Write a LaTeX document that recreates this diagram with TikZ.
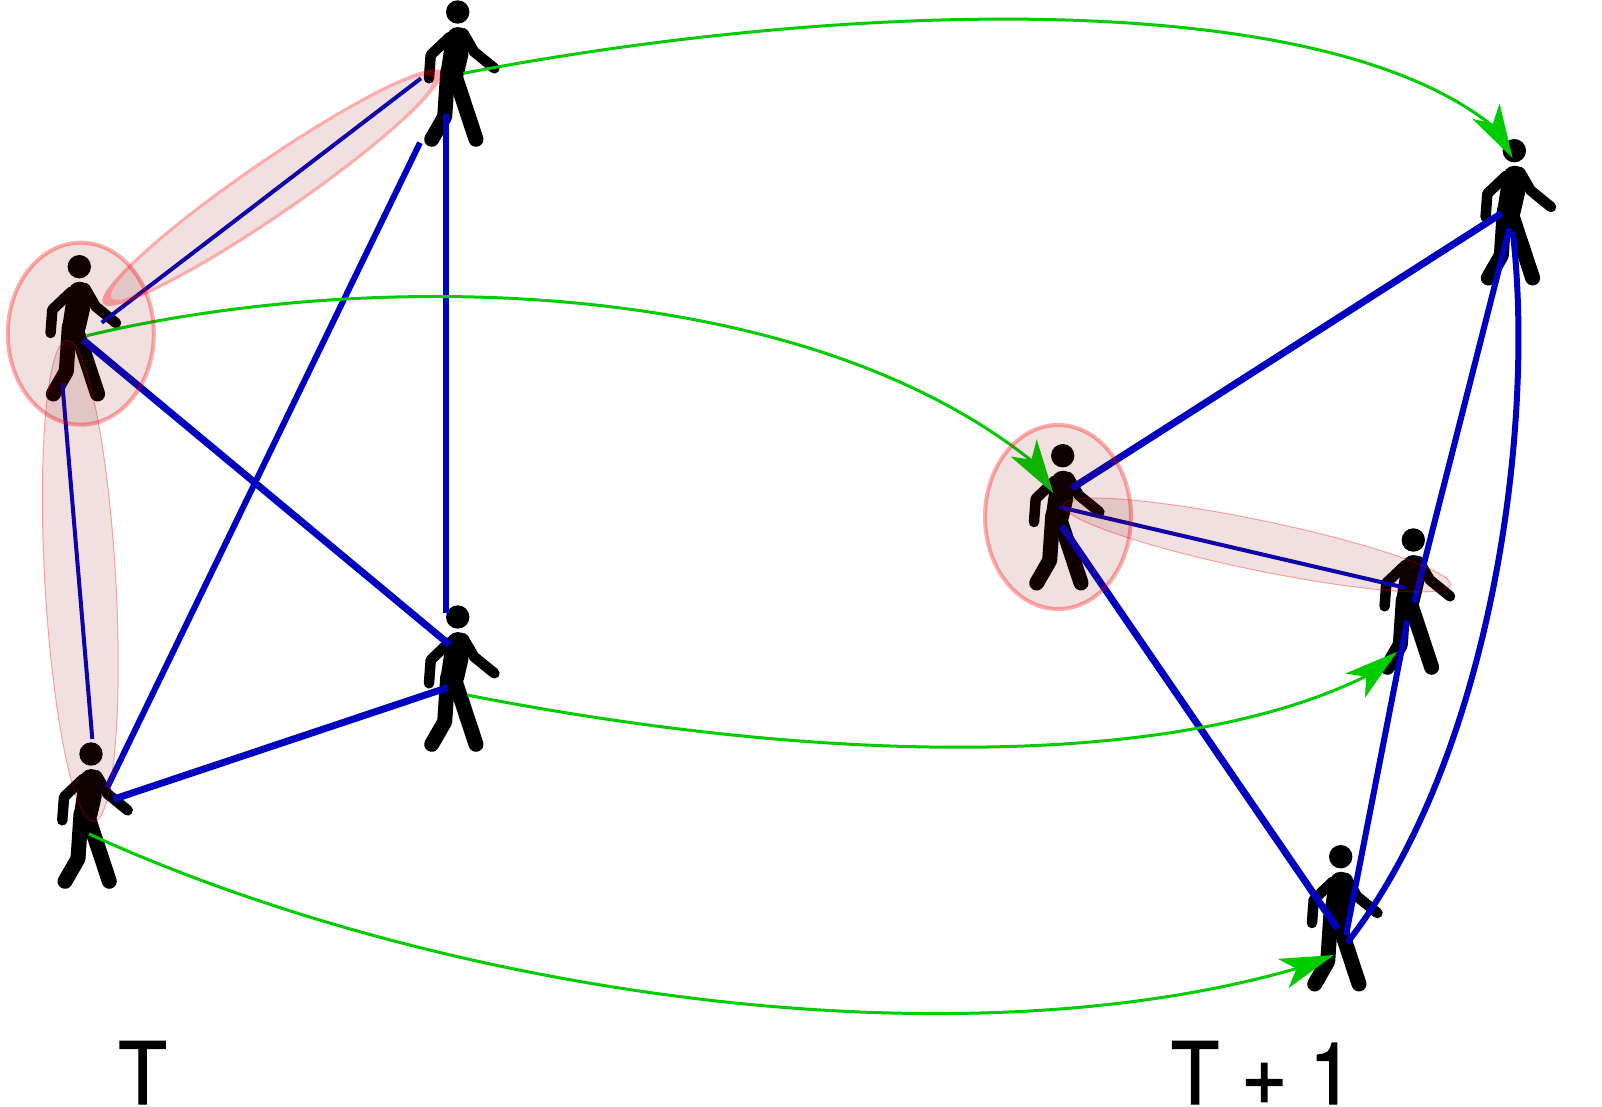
\documentclass[tikz,border=0pt]{standalone}
\usepackage{fontspec}
\usepackage{xcolor}
\newfontfamily\stepfont[FakeStretch=0.92,FakeBold=1.5]{TeX Gyre Heros}
\usetikzlibrary{shapes.geometric}
\usetikzlibrary{arrows.meta}
\definecolor{linkblue}{RGB}{0,0,192}
\definecolor{flowgreen}{RGB}{0,204,0}
\tikzstyle{head} = [circle, fill=black, inner sep=0pt, outer sep=0pt, minimum size=23.4pt]
\tikzstyle{limb} = [draw=black, line cap=round, line join=round]
\tikzstyle{linkthick} = [draw=linkblue, line width=7pt]
\tikzstyle{linkmid} = [draw=linkblue, line width=6pt]
\tikzstyle{linkthin} = [draw=linkblue, line width=4pt]
\tikzstyle{flow} = [draw=flowgreen, line width=3pt, -{Stealth[length=54pt,width=31pt,inset=14pt]}]
\tikzstyle{group} = [ellipse, inner sep=0pt, outer sep=0pt, fill=red!50!black, fill opacity=0.12,
    draw=red, draw opacity=0.33]
\tikzstyle{steplabel} = [font=\stepfont\fontsize{86}{86}\selectfont, anchor=base, inner sep=0pt]
\tikzset{walker/.pic={
  \fill[black] (-17,59.7) -- (-13.7,38) -- (-8.3,18.7) .. controls (-4,14) and (4,14) .. (8,18)
    -- (10.7,43) -- (6.3,62) -- (0,80) -- (-17,88) -- cycle;
  \path[limb, line width=10.5pt] (-7.7,24.7) -- (-27,43) -- (-28.7,66.3);
  \path[limb, line width=10.5pt] (5.7,21.3) -- (16.3,39.7) -- (36.7,56.3);
  \path[limb, line width=15pt] (-10,60) -- (-13,104.7) -- (-26,127.3);
  \path[limb, line width=15pt] (-2.3,65) -- (18.3,127.3);
}}

\begin{document}
\begin{tikzpicture}[x=1pt, y=-1pt]
  \useasboundingbox (0,0) rectangle (1602,1107);
  % people at T
  \node [head](top) at (457.7,12) {} ; \pic at (top) {walker};
  \node [head](left) at (79.3,266.7) {} ; \pic at (left) {walker};
  \node [head](mid) at (457.7,617) {} ; \pic at (mid) {walker};
  \node [head](low) at (91,754) {} ; \pic at (low) {walker};
  % people at T + 1
  \node [head](far) at (1514.3,150.7) {} ; \pic at (far) {walker};
  \node [head](hub) at (1062.7,455.7) {} ; \pic at (hub) {walker};
  \node [head](side) at (1413.3,540) {} ; \pic at (side) {walker};
  \node [head](foot) at (1340.7,856.7) {} ; \pic at (foot) {walker};
  % edges at T
  \path [linkmid] ([shift={(-12,102)}]top.center) -- ([shift={(-12,-4)}]mid.center);
  \path [linkmid] ([shift={(-37.7,130.7)}]top.center) -- ([shift={(16.3,33.3)}]low.center);
  \path [linkthin] ([shift={(22.4,56)}]left.center) -- ([shift={(-36.7,66.3)}]top.center);
  \path [linkthick] ([shift={(4,73.3)}]left.center) -- ([shift={(-8.1,27.7)}]mid.center);
  \path [linkthin] ([shift={(-17,116)}]left.center) -- ([shift={(1.3,-15)}]low.center);
  \path [linkthick] ([shift={(22.3,45.3)}]low.center) -- ([shift={(-10.2,70.6)}]mid.center);
  % edges at T + 1
  \path [linkthick] ([shift={(9,32.6)}]hub.center) -- ([shift={(-12.6,62.6)}]far.center);
  \path [linkthick] ([shift={(-1,70.3)}]hub.center) -- ([shift={(-3.4,71.6)}]foot.center);
  \path [linkthin] ([shift={(-3.7,51.3)}]hub.center) -- ([shift={(-8.3,47.7)}]side.center);
  \path [linkmid] ([shift={(0.7,62.7)}]side.center) -- ([shift={(-5,77.6)}]far.center);
  \path [linkmid] ([shift={(-6,80.7)}]side.center) -- ([shift={(5.3,78.3)}]foot.center);
  \path [linkmid] ([shift={(6.3,86.3)}]foot.center) .. controls (1490,760) and (1536,430) .. ([shift={(-1.6,81)}]far.center);
  % moves from T to T + 1
  \path [flow] ([shift={(5.6,61.3)}]top.center) .. controls (830,3) and (1320,-18) .. ([shift={(-18.4,-22)}]far.center) -- ([shift={(-1.6,7.6)}]far.center);
  \path [flow] ([shift={(7.4,69)}]left.center) .. controls (370,268) and (800,275) .. ([shift={(-30.2,5.8)}]hub.center) -- ([shift={(-9.4,37.6)}]hub.center);
  \path [flow] ([shift={(9.3,78)}]mid.center) .. controls (850,770) and (1190,765) .. ([shift={(-44.8,134.9)}]side.center) -- ([shift={(-16,111.7)}]side.center);
  \path [flow] ([shift={(-2,80)}]low.center) .. controls (430,990) and (945,1070) .. ([shift={(-42.4,111.3)}]foot.center) -- ([shift={(-6.7,98.3)}]foot.center);
  % groups
  \node [group, line width=4pt, minimum width=146pt, minimum height=182pt](leftoval) at (80.8,333.7) {} ;
  \node [group, line width=4pt, minimum width=146pt, minimum height=184pt](huboval) at (1058,517) {} ;
  \node [group, line width=1pt, minimum width=395pt, minimum height=50pt, rotate=-11.7](sideoval) at (1257,545) {} ;
  \node [group, line width=1pt, minimum width=482pt, minimum height=71pt, rotate=-86.8](lowoval) at (80.3,581) {} ;
  \fill [red, fill opacity=0.33, even odd rule, shift={(272,187.5)}, rotate=34.5]
    (0,0) ellipse [x radius=205pt, y radius=28pt] (0,0) ellipse [x radius=195pt, y radius=25pt];
  \fill [red!50!black, fill opacity=0.12, shift={(272,187.5)}, rotate=34.5]
    (0,0) ellipse [x radius=195pt, y radius=25pt];
  % labels
  \node [steplabel](stepT) at (142.5,1104) {T} ;
  \node [steplabel](stepTnext) at (1262,1104) {T + 1} ;
\end{tikzpicture}
\end{document}
